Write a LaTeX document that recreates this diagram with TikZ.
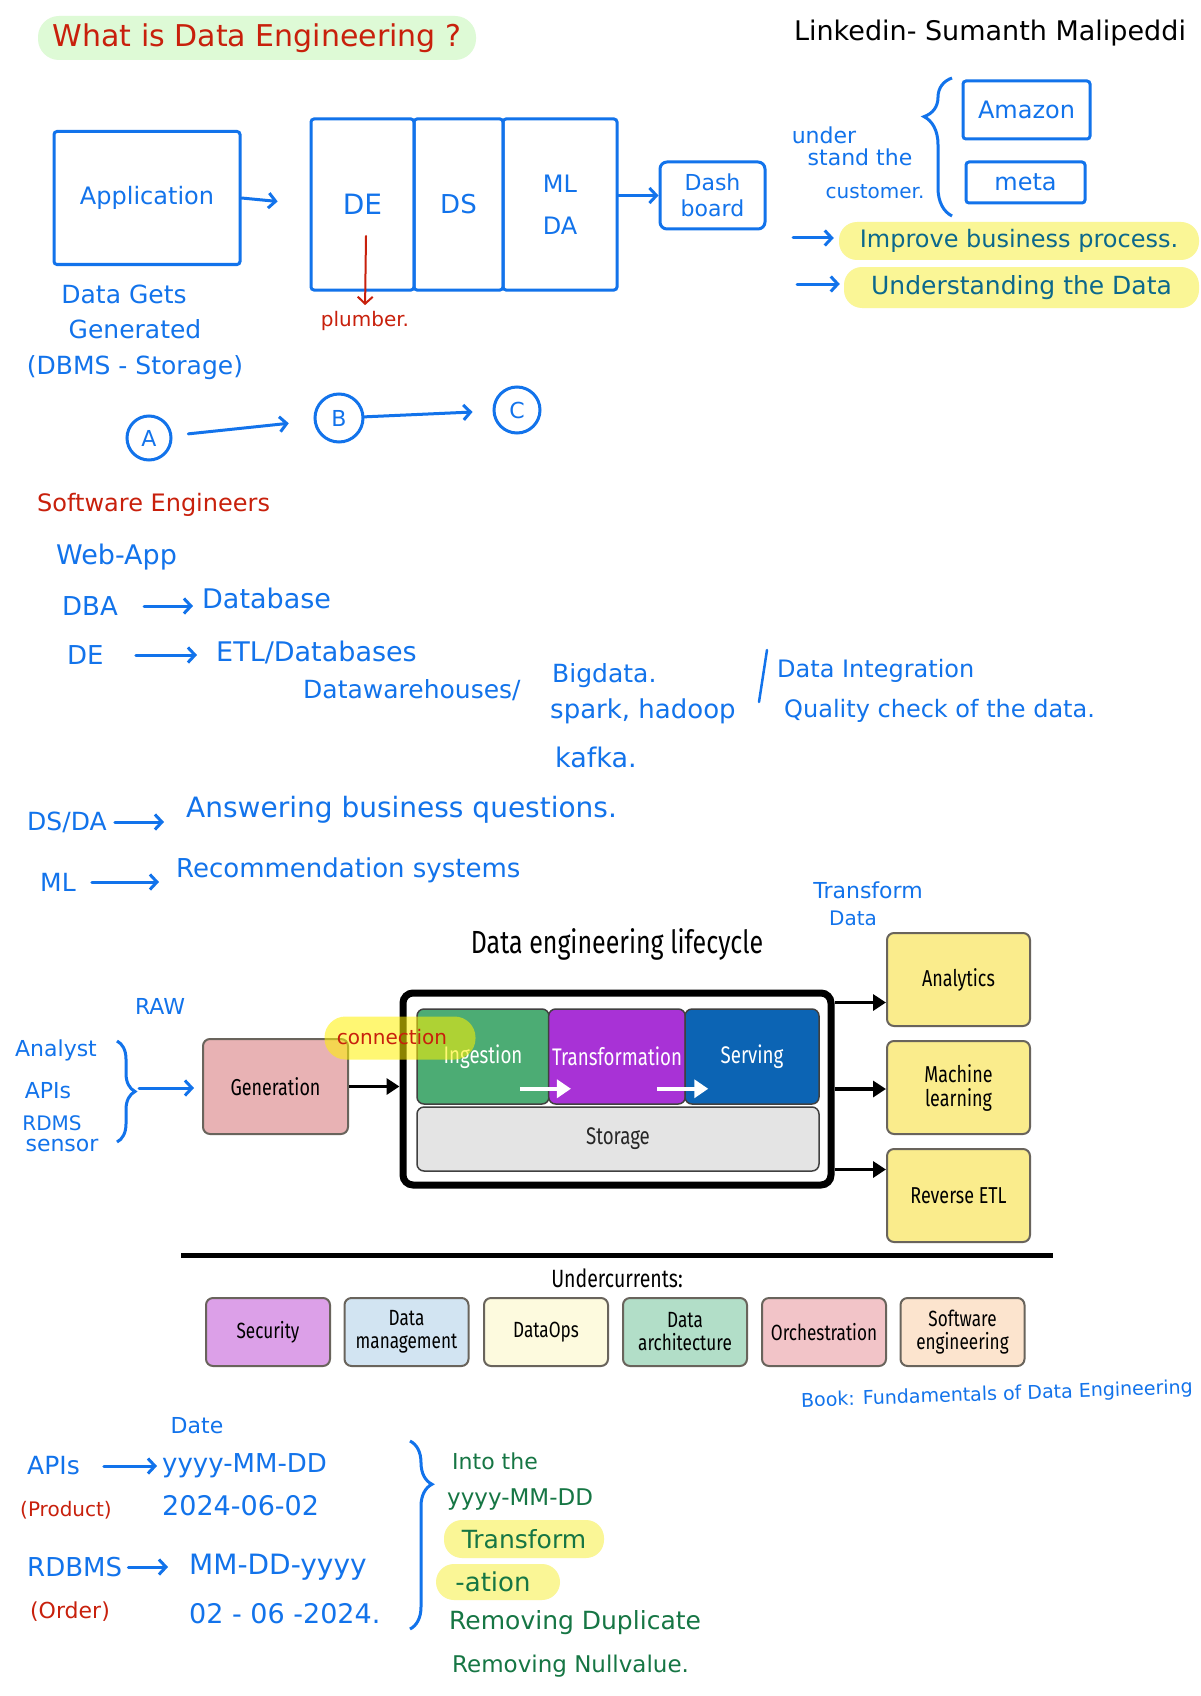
\documentclass[tikz,border=0pt]{standalone}
\usepackage{fontspec}
\usepackage{tikz}
\usetikzlibrary{positioning,calc,arrows.meta,decorations.pathreplacing}
\newfontfamily\handfont{DejaVu Sans}
\newfontfamily\figfont[FakeStretch=0.78]{Fira Sans}
\definecolor{InkBlue}{RGB}{18,115,235}
\definecolor{InkRed}{RGB}{200,32,12}
\definecolor{InkGreen}{RGB}{22,118,68}
\definecolor{InkTeal}{RGB}{12,104,140}
\definecolor{HiYellow}{RGB}{250,246,150}
\definecolor{HiGreen}{RGB}{222,250,214}
\definecolor{IngestGreen}{RGB}{76,172,116}
\definecolor{TransPurple}{RGB}{168,50,214}
\definecolor{ServeBlue}{RGB}{12,100,180}
\definecolor{StoreGray}{RGB}{228,228,228}
\definecolor{GenPink}{RGB}{232,178,180}
\definecolor{OutYellow}{RGB}{250,236,140}
\definecolor{EdgeGray}{RGB}{105,100,92}
\definecolor{SecPurple}{RGB}{220,160,232}
\definecolor{MgmtBlue}{RGB}{210,228,242}
\definecolor{OpsCream}{RGB}{253,250,222}
\definecolor{ArchMint}{RGB}{178,222,200}
\definecolor{OrchPink}{RGB}{242,196,200}
\definecolor{SwPeach}{RGB}{252,228,206}

\begin{document}
\begin{tikzpicture}[
    x=1pt, y=-1pt,
    hand/.style={font=\handfont\fontsize{#1}{#1}\selectfont, text=InkBlue, inner sep=0pt},
    hand/.default=26,
    sketch/.style={draw=InkBlue, line width=3pt, rounded corners=3pt, align=center},
    inkarrow/.style={-{Straight Barb[length=7pt,width=15pt]}, draw=InkBlue, line width=3pt, line cap=round},
    inkbrace/.style={draw=InkBlue, line width=3pt, decorate, decoration={brace, amplitude=#1}},
    pill/.style={fill=HiYellow, rounded corners=18pt},
    tile/.style={draw=black!75, line width=1.5pt, rounded corners=7pt, font=\figfont\fontsize{24}{24}\selectfont, text=white},
    card/.style={draw=EdgeGray, line width=2pt, rounded corners=7pt, align=center, fill=OutYellow, font=\figfont\fontsize{23}{24}\selectfont},
    undercard/.style={draw=EdgeGray, line width=2pt, rounded corners=7pt, align=center, minimum width=124, minimum height=68, font=\figfont\fontsize{22}{23}\selectfont},
    flow/.style={-{Triangle[length=13pt,width=16pt]}, line width=3.5pt},
    whiteflow/.style={-{Triangle[length=14pt,width=18pt]}, draw=white, line width=4pt}
]
\fill[white] (0,0) rectangle (1200,1696);
\useasboundingbox (0,0) rectangle (1200,1696);

\node[hand=30, text=InkRed, fill=HiGreen, rounded corners=21pt, minimum width=438, minimum height=44] (title) at (257,38) {What is Data Engineering ?};
\node[hand=27, text=black] (author) at (990,33) {Linkedin- Sumanth Malipeddi};

\node[sketch, hand=24, minimum width=186, minimum height=133] (app) at (147,198) {Application};
\node[sketch, hand=28, minimum width=103, minimum height=171] (de) at (362.5,204.5) {DE};
\node[sketch, hand=26, minimum width=89, minimum height=171] (ds) at (458.5,204.5) {DS};
\node[sketch, hand=24, minimum width=114, minimum height=171] (mlda) at (560,204.5) {ML\\[18pt]DA};
\node[sketch, hand=22, minimum width=105, minimum height=67, rounded corners=7pt] (dash) at (712.5,195.5) {Dash\\[4pt]board};
\draw[inkarrow, shorten >=32pt] (app.east) -- (de.west);
\draw[inkarrow] (mlda.east |- dash.west) -- (dash.west);

\coordinate (pipetop) at (366,236);
\node[hand=20, text=InkRed] (plumber) at (365,321) {plumber.};
\draw[inkarrow, draw=InkRed, line width=2pt, shorten >=6pt] (pipetop) -- (plumber.north);

\node[hand=22] (under1) at (824,135) {under};
\node[hand=22] (under2) at (860,157) {stand the};
\node[hand=20] (under3) at (875,192) {customer.};
\draw[inkbrace=28pt, decoration={aspect=0.72}] (952,216) -- (952,78);
\node[sketch, hand=24, minimum width=127, minimum height=58] (amazon) at (1026.5,110) {Amazon};
\node[sketch, hand=24, minimum width=119, minimum height=41] (meta) at (1025.5,182.5) {meta};

\node[pill, hand=24, text=InkTeal, minimum width=360, minimum height=38] (improve) at (1019,241) {Improve business process.};
\node[pill, hand=25, text=InkTeal, minimum width=355, minimum height=41] (understand) at (1021.5,287.5) {Understanding the Data};
\coordinate (improve0) at (793,238);
\coordinate (understand0) at (797,284);
\draw[inkarrow, shorten >=5pt] (improve0) -- (improve0 -| improve.west);
\draw[inkarrow, shorten >=4pt] (understand0) -- (understand0 -| understand.west);

\node[hand=25] (gets1) at (124,294) {Data Gets};
\node[hand=25] (gets2) at (135,329) {Generated};
\node[hand=25] (gets3) at (135,368) {(DBMS - Storage)};

\node[draw=InkBlue, line width=3pt, circle, minimum size=44, hand=22] (nodeA) at (149,438) {A};
\node[draw=InkBlue, line width=3pt, circle, minimum size=48, hand=22] (nodeB) at (339,418) {B};
\node[draw=InkBlue, line width=3pt, circle, minimum size=46, hand=22] (nodeC) at (517,410) {C};
\draw[inkarrow, shorten <=16pt, shorten >=25pt] (nodeA) -- (nodeB);
\draw[inkarrow, shorten >=20pt] (nodeB) -- (nodeC);

\node[hand=24, text=InkRed, anchor=west] (swe) at (37,505) {Software Engineers};
\node[hand=27, anchor=west] (webapp) at (56,557) {Web-App};
\node[hand=26, anchor=west] (dba) at (62,606) {DBA};
\node[hand=27, anchor=west] (database) at (202,598) {Database};
\draw[inkarrow, shorten <=26pt, shorten >=9pt] (dba.east) -- (dba.east -| database.west);
\node[hand=26, anchor=west] (derole) at (67,655) {DE};
\node[hand=27, anchor=west] (etl) at (216,652) {ETL/Databases};
\draw[inkarrow, shorten <=32pt, shorten >=19pt] (derole.east) -- (derole.east -| etl.west);
\node[hand=25, anchor=west] (dwh) at (303,690) {Datawarehouses/};
\node[hand=25, anchor=west] (bigdata) at (552,676) {Bigdata.};
\node[hand=26, anchor=west] (spark) at (550,711) {spark, hadoop};
\node[hand=27, anchor=west] (kafka) at (555,757) {kafka.};
\draw[InkBlue, line width=2.5pt, line cap=round] (767,650) -- (759,702);
\node[hand=24, anchor=west] (integ) at (777,671) {Data Integration};
\node[hand=24, anchor=west] (quality) at (784,711) {Quality check of the data.};

\node[hand=25, anchor=west] (dsda) at (27,822) {DS/DA};
\node[hand=28, anchor=west] (answer) at (186,810) {Answering business questions.};
\draw[inkarrow, shorten <=8pt, shorten >=22pt] (dsda.east) -- (dsda.east -| answer.west);
\node[hand=25, anchor=west] (mlrole) at (40,882) {ML};
\node[hand=26, anchor=west] (recsys) at (176,870) {Recommendation systems};
\draw[inkarrow, shorten <=16pt, shorten >=17pt] (mlrole.east) -- (mlrole.east -| recsys.west);

\node[hand=22] (transform1) at (868,890) {Transform};
\node[hand=20] (transform2) at (853,918) {Data};

\node[font=\figfont\fontsize{32}{32}\selectfont] (lctitle) at (617,944) {Data engineering lifecycle};
\node[draw, line width=7pt, rounded corners=10pt, minimum width=428, minimum height=192] (lcframe) at (617,1089) {};
\node[tile, fill=IngestGreen, minimum width=132, minimum height=95] (ingest) at (483,1056.5) {Ingestion};
\node[tile, fill=TransPurple, minimum width=134, minimum height=95] (transform) at (617,1056.5) {Transformation};
\node[tile, fill=ServeBlue, minimum width=134, minimum height=95] (serve) at (752,1056.5) {Serving};
\node[tile, fill=StoreGray, text=black!85, minimum width=402, minimum height=64] (storage) at (618,1139) {Storage};
\draw[whiteflow] ($(ingest.south east)+(-30,-16)$) -- ($(transform.south west)+(23,-16)$);
\draw[whiteflow] ($(transform.south east)+(-29,-16)$) -- ($(serve.south west)+(24,-16)$);

\node[card, fill=GenPink, minimum width=145, minimum height=95] (gen) at (275.5,1086.5) {Generation};
\draw[flow] (gen.east) -- (gen.east -| lcframe.west);

\node[card, minimum width=143, minimum height=93] (analytics) at (958.5,979.5) {Analytics};
\node[card, minimum width=143, minimum height=93] (mlearn) at (958.5,1087.5) {Machine\\learning};
\node[card, minimum width=143, minimum height=93] (retl) at (958.5,1195.5) {Reverse ETL};
\coordinate (tapA) at ($(lcframe.north east)+(0,13)$);
\coordinate (tapC) at ($(lcframe.south east)+(0,-19)$);
\draw[flow] (tapA) -- (tapA -| analytics.west);
\draw[flow] (lcframe.east) -- (lcframe.east -| mlearn.west);
\draw[flow] (tapC) -- (tapC -| retl.west);

\node[hand=22] (raw) at (160,1006) {RAW};
\node[fill=yellow, fill opacity=0.55, text opacity=1, rounded corners=21pt, minimum width=151, minimum height=43] (connhl) at (400,1038) {};
\node[hand=20, text=InkRed] (conn) at (392,1037) {connection};
\node[hand=22] (analyst) at (56,1050) {Analyst};
\node[hand=22] (apis) at (48,1091) {APIs};
\node[hand=20] (rdms) at (52,1123) {RDMS};
\node[hand=22] (sensor) at (62,1145) {sensor};
\draw[inkbrace=18pt] (117,1041) -- (117,1142);
\coordinate (srcbrace) at (139,1088);
\draw[inkarrow, shorten >=8pt] (srcbrace) -- (srcbrace -| gen.west);

\draw[line width=5pt] (181,1255) -- (1053,1255);
\node[font=\figfont\fontsize{25}{25}\selectfont] (currents) at (617,1278) {Undercurrents:};
\node[undercard, fill=SecPurple] (security) at (268,1332) {Security};
\node[undercard, fill=MgmtBlue] (datamgmt) at (406.5,1332) {Data\\management};
\node[undercard, fill=OpsCream] (dataops) at (546,1332) {DataOps};
\node[undercard, fill=ArchMint] (dataarch) at (685,1332) {Data\\architecture};
\node[undercard, fill=OrchPink] (orch) at (824,1332) {Orchestration};
\node[undercard, fill=SwPeach] (softeng) at (962.5,1332) {Software\\engineering};

\node[hand=19, rotate=2] (book) at (997,1395) {Book: Fundamentals of Data Engineering};

\node[hand=22] (datehd) at (197,1426) {Date};
\node[hand=25, anchor=west] (apisrc) at (27,1466) {APIs};
\node[hand=26, anchor=west] (apifmt) at (162,1466) {yyyy-MM-DD};
\draw[inkarrow, shorten <=24pt, shorten >=5pt] (apisrc.east) -- (apifmt.west);
\node[hand=20, text=InkRed] (product) at (66,1510) {(Product)};
\node[hand=27, anchor=west] (apiex) at (162,1506) {2024-06-02};
\node[hand=26, anchor=west] (rdbms) at (27,1567) {RDBMS};
\node[hand=28, anchor=west] (rdbmsfmt) at (189,1567) {MM-DD-yyyy};
\draw[inkarrow, shorten <=6pt, shorten >=21pt] (rdbms.east) -- (rdbmsfmt.west);
\node[hand=22, text=InkRed] (order) at (70,1612) {(Order)};
\node[hand=27, anchor=west] (rdbmsex) at (189,1614) {02 - 06 -2024.};
\draw[inkbrace=22pt, decoration={aspect=0.23}] (410,1441) -- (410,1629);

\node[hand=22, text=InkGreen, anchor=west] (into) at (452,1461) {Into the};
\node[hand=23, text=InkGreen, anchor=west] (target) at (447,1499) {yyyy-MM-DD};
\node[pill, minimum width=160, minimum height=38] (tfpill) at (524,1539) {};
\node[hand=25, text=InkGreen] (tf1) at (524,1539) {Transform};
\node[pill, minimum width=124, minimum height=36] (tf2pill) at (498,1582) {};
\node[hand=26, text=InkGreen] (tf2) at (493,1582) {-ation};
\node[hand=25, text=InkGreen, anchor=west] (dedup) at (449,1623) {Removing Duplicate};
\node[hand=23, text=InkGreen, anchor=west] (nulls) at (452,1666) {Removing Nullvalue.};
\end{tikzpicture}
\end{document}
